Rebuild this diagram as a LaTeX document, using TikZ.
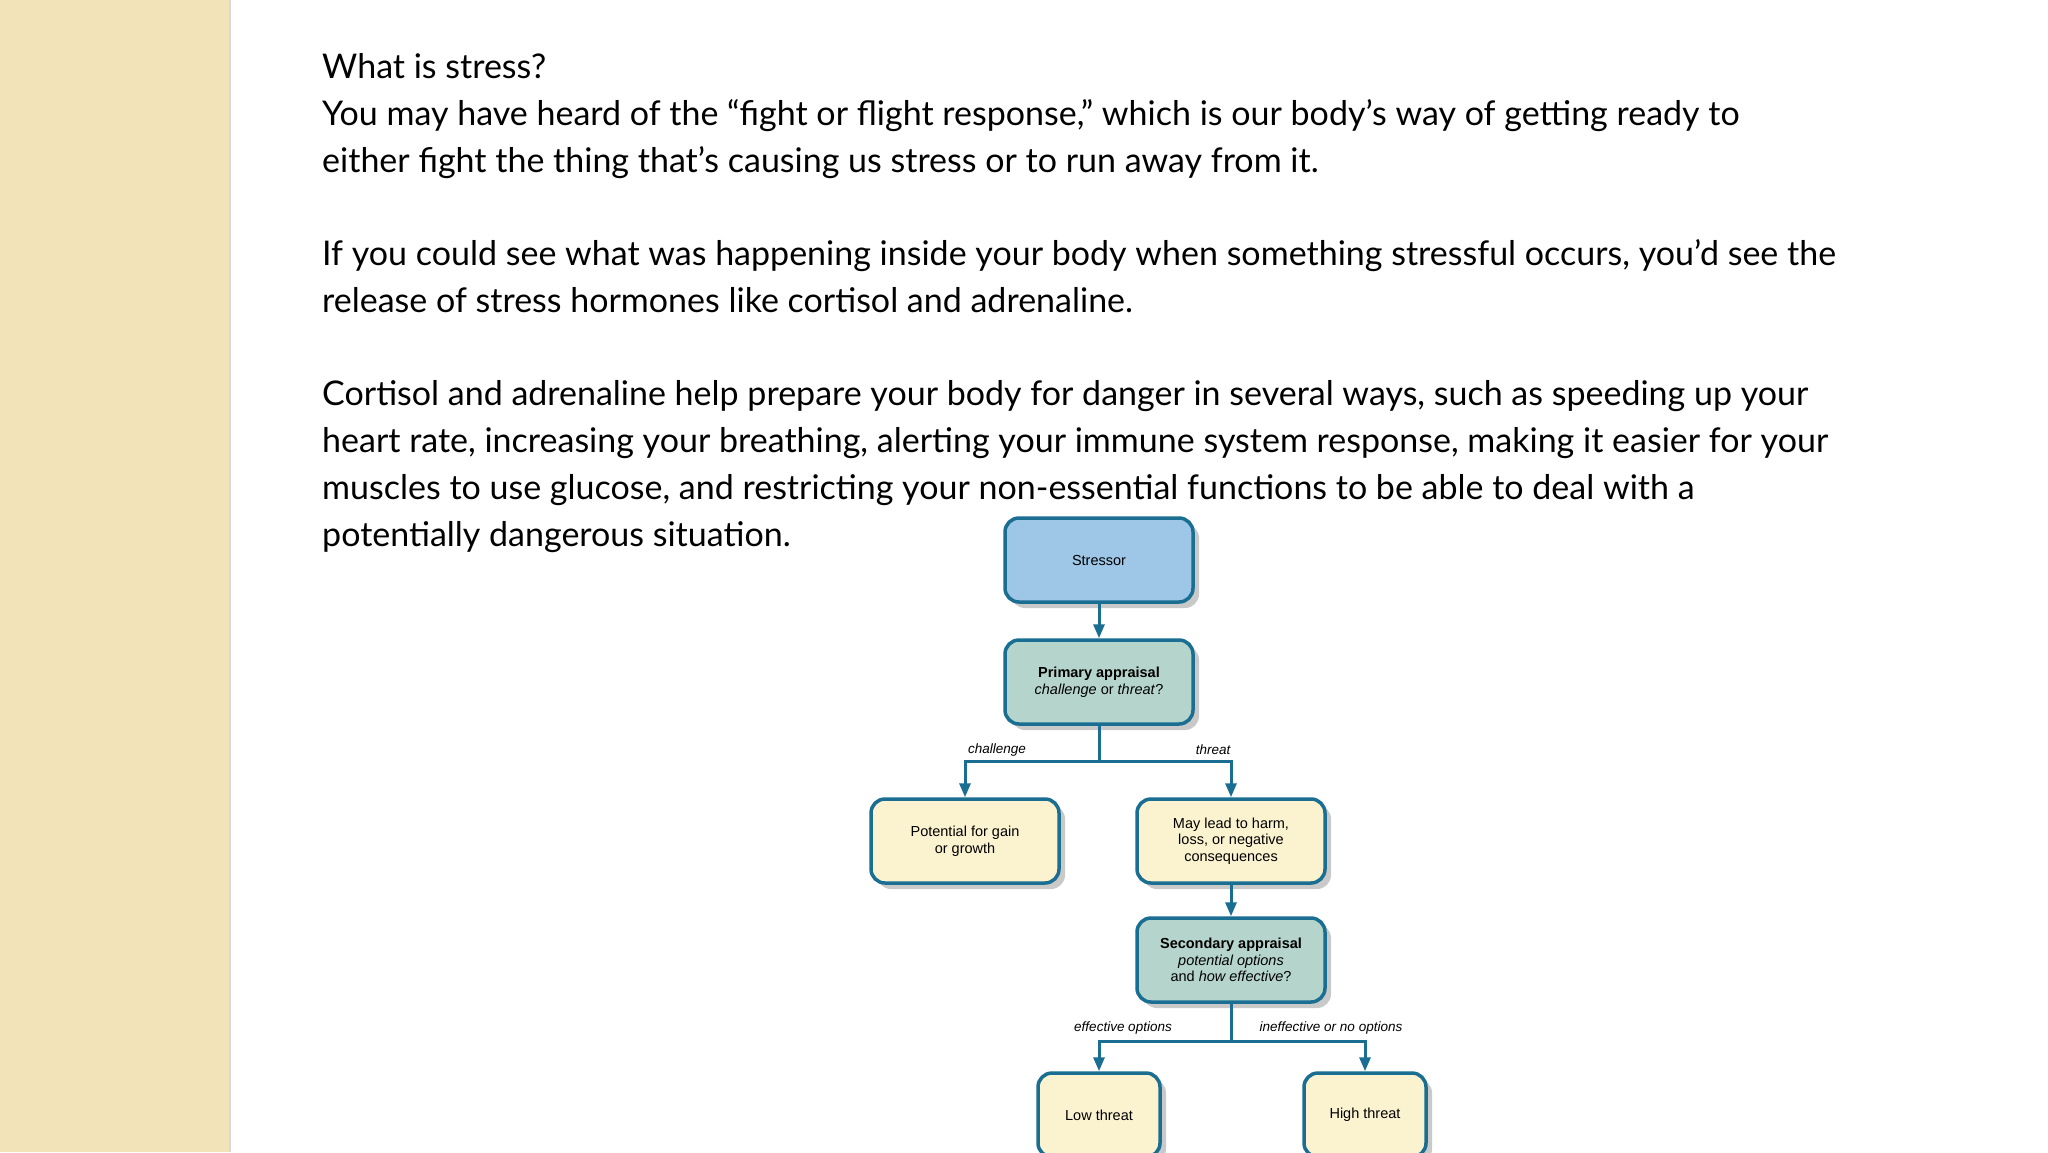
\documentclass[tikz,border=0pt]{standalone}
\usepackage{fontspec}
\setmainfont{Lato}
\newfontfamily\diag{Liberation Sans}
\usetikzlibrary{shadows,arrows.meta}
\definecolor{strip}{HTML}{F2E3B8}
\definecolor{edge}{HTML}{1A6E92}
\definecolor{blue}{HTML}{9EC6E6}
\definecolor{teal}{HTML}{B5D5CC}
\definecolor{cream}{HTML}{FBF3CF}
\tikzset{
 x=1pt,y=-1pt,
 body/.style={anchor=base west,inner sep=0pt,font=\fontsize{34}{40}\selectfont},
 box/.style={draw=edge,line width=3.5pt,rounded corners=14pt,minimum width=188pt,minimum height=84pt,align=center,font=\diag\fontsize{14.5}{16.5}\selectfont,drop shadow={shadow xshift=6pt,shadow yshift=-6pt,opacity=0.35,fill=black!60}},
 small/.style={box,minimum width=122pt},
 lbl/.style={font=\diag\itshape\fontsize{13.5}{15}\selectfont,inner sep=1pt},
 conn/.style={draw=edge,line width=3pt,-{Triangle[length=14pt,width=11pt]}},
 bar/.style={draw=edge,line width=3pt}
}
\begin{document}
\begin{tikzpicture}
\useasboundingbox (0,0) rectangle (2048,1152);
\fill[white] (0,0) rectangle (2048,1152);
\fill[strip] (0,0) rectangle (229,1152);
\fill[black!15] (229,0) rectangle (231,1152);
\node[body] (t1) at (322,78) {What is stress?};
\node[body] (t2) at (322,125) {You may have heard of the “fight or flight response,” which is our body’s way of getting ready to};
\node[body] (t3) at (322,172) {either fight the thing that’s causing us stress or to run away from it.};
\node[body] (t4) at (322,265) {If you could see what was happening inside your body when something stressful occurs, you’d see the};
\node[body] (t5) at (322,312) {release of stress hormones like cortisol and adrenaline.};
\node[body] (t6) at (322,405) {Cortisol and adrenaline help prepare your body for danger in several ways, such as speeding up your};
\node[body] (t7) at (322,452) {heart rate, increasing your breathing, alerting your immune system response, making it easier for your};
\node[body] (t8) at (322,499) {muscles to use glucose, and restricting your non-essential functions to be able to deal with a};
\node[body] (t9) at (322,546) {potentially dangerous situation.};

\node[box,fill=blue] (s) at (1099,560) {Stressor};
\node[box,fill=teal] (p) at (1099,682) {\textbf{Primary appraisal}\\\textit{challenge} or \textit{threat}?};
\node[box,fill=cream] (g) at (965,841) {Potential for gain\\or growth};
\node[box,fill=cream] (h) at (1231,841) {May lead to harm,\\loss, or negative\\consequences};
\node[box,fill=teal] (sa) at (1231,960) {\textbf{Secondary appraisal}\\\textit{potential options}\\and \textit{how effective}?};
\node[small,fill=cream] (lo) at (1099,1115) {Low threat};
\node[small,fill=cream] (hi) at (1365,1115) {High threat};

\coordinate (pb) at (1099,761);
\coordinate (sb) at (1231,1041);
\draw[conn] (s) -- (p);
\draw[bar] (p.south) -- (pb);
\draw[conn] (pb) -| (g.north);
\draw[conn] (pb) -| (h.north);
\draw[conn] (h) -- (sa);
\draw[bar] (sa.south) -- (sb);
\draw[conn] (sb) -| (lo.north);
\draw[conn] (sb) -| (hi.north);
\node[lbl] (lc) at (997,750) {challenge};
\node[lbl] (lt) at (1213,750) {threat};
\node[lbl] (le) at (1123,1028) {effective options};
\node[lbl] (li) at (1331,1028) {ineffective or no options};
\end{tikzpicture}
\end{document}
